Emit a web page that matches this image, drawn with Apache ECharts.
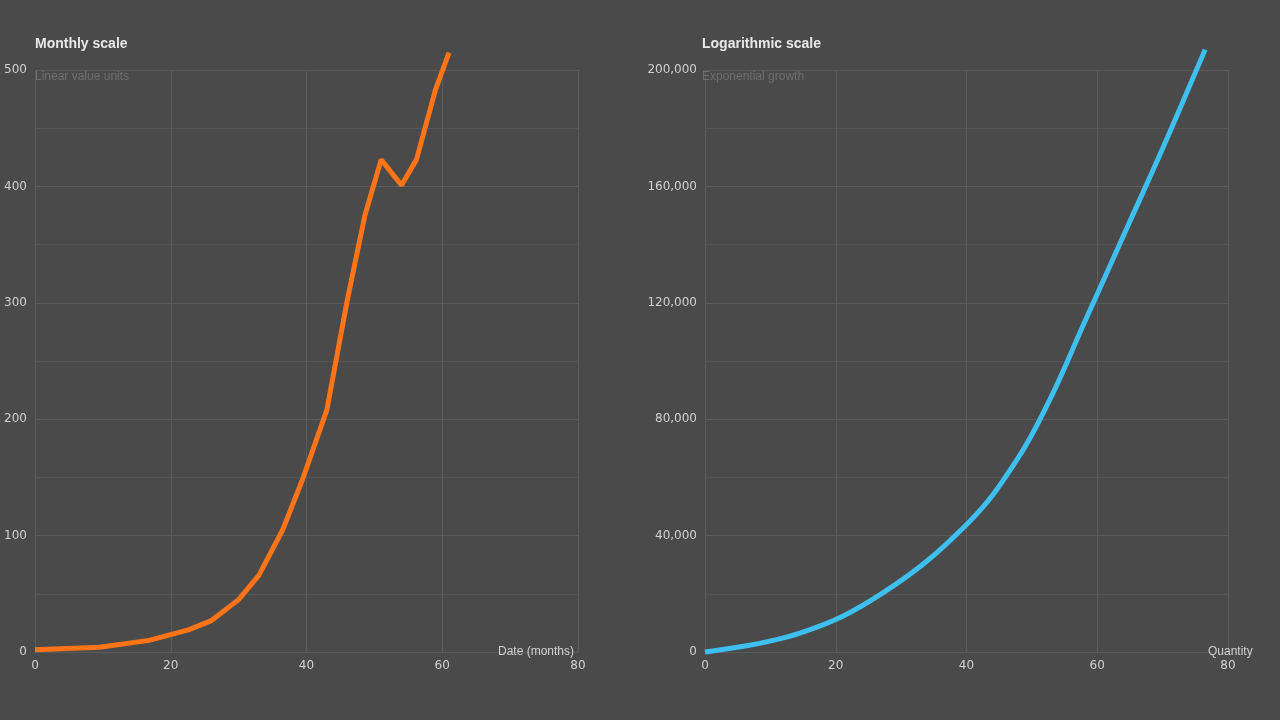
<!DOCTYPE html><html><head><meta charset="utf-8"><script src="https://cdn.jsdelivr.net/npm/echarts@6/dist/echarts.min.js"></script></head><body style="margin:0;background:#4a4a4a"><div id="c" style="width:1280px;height:720px"></div><script>
const leftX=[0,9.5,16.8,22.6,26,30,33,36.5,39.4,43,46,48.6,51,54,56.2,59,61];
const leftY=[2,4,10,19,27,45,66,105,148,208,302,375,423,401,423,483,515];
const rightX=[0,14.5,27.2,40.1,47.7,52.8,57.8,65,70,76.5];
const rightY=[0,6500,20300,44000,66000,87000,112000,148000,173000,207000];
const c=echarts.init(document.getElementById('c'));
const txt='#d0d0d0',grid='#5c5c5c';
function ax(o){return Object.assign({axisLine:{show:false},axisTick:{show:false},splitLine:{show:true,lineStyle:{color:grid,width:1}},axisLabel:{color:txt,fontSize:12,fontFamily:'DejaVu Sans'}},o);}
const minor={minorTick:{show:false,splitNumber:2},minorSplitLine:{show:true,lineStyle:{color:'#555',width:1}}};
c.setOption({backgroundColor:'#4a4a4a',animation:false,
title:[{text:'Monthly scale',left:30,top:32,textStyle:{color:'#e8e8e8',fontSize:14,fontWeight:'bold'},subtext:'Linear value units',subtextStyle:{color:'#6e6e6e',fontSize:12},itemGap:20},
{text:'Logarithmic scale',left:697,top:32,textStyle:{color:'#e8e8e8',fontSize:14,fontWeight:'bold'},subtext:'Exponential growth',subtextStyle:{color:'#6e6e6e',fontSize:12},itemGap:20}],
grid:[{left:35,top:70,width:543,height:582},{left:705,top:70,width:523,height:582}],
xAxis:[ax({gridIndex:0,type:'value',min:0,max:80,interval:20,name:'Date (months)',nameLocation:'end',nameGap:-80,nameTextStyle:{color:txt,padding:[50,0,0,0]}}),
ax({gridIndex:1,type:'value',min:0,max:80,interval:20,name:'Quantity',nameLocation:'end',nameGap:-20,nameTextStyle:{color:txt,padding:[50,0,0,0]}})],
yAxis:[ax(Object.assign({gridIndex:0,type:'value',min:0,max:500,interval:100},minor)),ax(Object.assign({gridIndex:1,type:'value',min:0,max:200000,interval:40000},minor))],
series:[{type:'line',xAxisIndex:0,yAxisIndex:0,data:leftX.map((x,i)=>[x,leftY[i]]),showSymbol:false,clip:false,lineStyle:{color:'#ff7417',width:5},itemStyle:{color:'#ff7417'}},
{type:'line',xAxisIndex:1,yAxisIndex:1,smooth:0.4,data:rightX.map((x,i)=>[x,rightY[i]]),showSymbol:false,clip:false,lineStyle:{color:'#3dbff0',width:5},itemStyle:{color:'#3dbff0'}}]});
</script></body></html>
